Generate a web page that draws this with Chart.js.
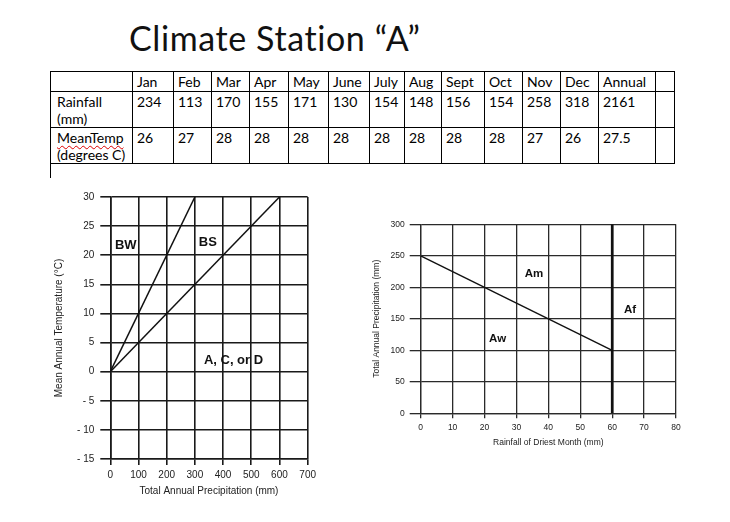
<!DOCTYPE html>
<html><head><meta charset="utf-8">
<script src="https://cdn.jsdelivr.net/npm/chart.js@4/dist/chart.umd.min.js"></script>
<style>
html,body{margin:0;padding:0;background:#fff;width:730px;height:522px;overflow:hidden;position:relative}
#title{position:absolute;left:129px;top:21px;font-family:Lato,'Open Sans',sans-serif;font-weight:400;font-size:34px;letter-spacing:0.6px;line-height:34px;color:#111;white-space:nowrap}
#tbl{position:absolute;left:50px;top:71px;border-collapse:collapse;table-layout:fixed;width:624px;font-family:Lato,sans-serif;font-size:14px;color:#000}
#tbl td{border:1px solid #000;padding:1px 0 0 4px;vertical-align:top;line-height:17px;overflow:hidden;white-space:nowrap}
#tbl td.first{padding-left:6px}
.sq{text-decoration:underline wavy #d00;text-decoration-thickness:1px;text-underline-offset:2px}
#cursor{position:absolute;left:50px;top:162px;width:1px;height:16px;background:#000}
canvas{position:absolute}
#c1{left:45px;top:185px}
#c2{left:365px;top:208px}
</style>
</head><body>
<div id="title">Climate Station “A”</div>
<table id="tbl"></table>
<div id="cursor"></div>
<canvas id="c1" width="275" height="315"></canvas>
<canvas id="c2" width="330" height="250"></canvas>
<script>
// ---- Table data ----
const months = ['Jan','Feb','Mar','Apr','May','June','July','Aug','Sept','Oct','Nov','Dec','Annual'];
const rainfall = [234,113,170,155,171,130,154,148,156,154,258,318,2161];
const meanTemp = [26,27,28,28,28,28,28,28,28,28,27,26,27.5];

// ---- Chart 1: aridity (B climates) ----
const precipTicks = [0,100,200,300,400,500,600,700];
const tempTicks = [-15,-10,-5,0,5,10,15,20,25,30];
const tempTickLabels = ['- 15','- 10','- 5','0','5','10','15','20','25','30'];
const bwBoundaryP = [0,300];
const bwBoundaryT = [0,30];
const bsBoundaryP = [0,600];
const bsBoundaryT = [0,30];
const regions1 = ['BW','BS','A, C, or D'];
const regions1P = [55,346,437];
const regions1T = [21.6,22.2,1.9];

// ---- Chart 2: tropical (A climates) ----
const dryTicks = [0,10,20,30,40,50,60,70,80];
const totalTicks = [0,50,100,150,200,250,300];
const amAwDry = [0,60];
const amAwTotal = [250,100];
const afDry = [60,60];
const afTotal = [0,300];
const regions2 = ['Am','Af','Aw'];
const regions2Dry = [35.5,65.6,24.1];
const regions2Total = [222,165,119];

// ---- build table ----
(function(){
  const widths=[82,41,38,38,39,40,41,35,37,43,38,38,38,57,19];
  const t=document.getElementById('tbl');
  let h='<colgroup>'+widths.map(w=>'<col style="width:'+w+'px">').join('')+'</colgroup>';
  h+='<tr style="height:20px"><td class="first"></td>'+months.map(m=>'<td>'+m+'</td>').join('')+'<td></td></tr>';
  h+='<tr style="height:36px"><td class="first">Rainfall<br>(mm)</td>'+rainfall.map(v=>'<td>'+v+'</td>').join('')+'<td></td></tr>';
  h+='<tr style="height:35px"><td class="first"><span class="sq">MeanTemp</span><br>(degrees C)</td>'+meanTemp.map(v=>'<td>'+v+'</td>').join('')+'<td></td></tr>';
  t.innerHTML=h;
})();

const FAM = "'Liberation Sans', Arial, sans-serif";
function pts(xs,ys){return xs.map((x,i)=>({x:x,y:ys[i]}));}
function labelPlugin(texts,xs,ys,font){
  return {id:'regionLabels',afterDatasetsDraw(chart){
    const {ctx,scales:{x,y}}=chart;
    ctx.save();ctx.font=font;ctx.fillStyle='#111';ctx.textAlign='center';ctx.textBaseline='middle';
    texts.forEach((t,i)=>ctx.fillText(t,x.getPixelForValue(xs[i]),y.getPixelForValue(ys[i])));
    ctx.restore();
  }};
}
function fixedTicks(arr){return s=>{s.ticks=arr.map(v=>({value:v}));};}

new Chart(document.getElementById('c1'),{
  type:'scatter',
  data:{datasets:[
    {data:pts(bwBoundaryP,bwBoundaryT),showLine:true,borderColor:'#111',borderWidth:1.5,pointRadius:0},
    {data:pts(bsBoundaryP,bsBoundaryT),showLine:true,borderColor:'#111',borderWidth:1.5,pointRadius:0}
  ]},
  options:{
    responsive:false,animation:false,events:[],
    layout:{padding:{top:10.7,right:11.3,left:0,bottom:0}},
    plugins:{legend:{display:false},tooltip:{enabled:false}},
    scales:{
      x:{type:'linear',min:0,max:700,afterBuildTicks:fixedTicks(precipTicks),
        ticks:{font:{family:FAM,size:10},color:'#222',padding:4,maxRotation:0,autoSkip:false},
        grid:{color:'#1a1a1a',lineWidth:1.6,tickLength:6},
        border:{color:'#1a1a1a',width:1.6},
        title:{display:true,text:'Total Annual Precipitation (mm)',font:{family:FAM,size:10},color:'#222',padding:{top:0,bottom:3}},
        afterFit:s=>{s.height=41;}},
      y:{type:'linear',min:-15,max:30,afterBuildTicks:fixedTicks(tempTicks),
        ticks:{font:{family:FAM,size:10},color:'#222',padding:6,autoSkip:false,
          callback:v=>{const i=tempTicks.indexOf(v);return i>=0?tempTickLabels[i]:'';}},
        grid:{color:'#1a1a1a',lineWidth:1.6,tickLength:10},
        border:{color:'#1a1a1a',width:1.6},
        title:{display:true,text:'Mean Annual Temperature (°C)',font:{family:FAM,size:10},color:'#222',padding:{top:8,bottom:0}},
        afterFit:s=>{s.width=65.3;}}
    }
  },
  plugins:[labelPlugin(regions1,regions1P,regions1T,"bold 13px "+FAM)]
});

new Chart(document.getElementById('c2'),{
  type:'scatter',
  data:{datasets:[
    {data:pts(amAwDry,amAwTotal),showLine:true,borderColor:'#111',borderWidth:1.4,pointRadius:0},
    {data:pts(afDry,afTotal),showLine:true,borderColor:'#111',borderWidth:2.6,pointRadius:0}
  ]},
  options:{
    responsive:false,animation:false,events:[],
    layout:{padding:{top:16.3,right:19,left:0,bottom:0}},
    plugins:{legend:{display:false},tooltip:{enabled:false}},
    scales:{
      x:{type:'linear',min:0,max:80,afterBuildTicks:fixedTicks(dryTicks),
        ticks:{font:{family:FAM,size:8.5},color:'#222',padding:4,maxRotation:0,autoSkip:false},
        grid:{color:'#2a2a2a',lineWidth:1.3,tickLength:5},
        border:{color:'#2a2a2a',width:1.3},
        title:{display:true,text:'Rainfall of Driest Month (mm)',font:{family:FAM,size:8.5},color:'#222',padding:{top:0,bottom:10.2}},
        afterFit:s=>{s.height=44.7;}},
      y:{type:'linear',min:0,max:300,afterBuildTicks:fixedTicks(totalTicks),
        ticks:{font:{family:FAM,size:8.5},color:'#222',padding:5,autoSkip:false},
        grid:{color:'#2a2a2a',lineWidth:1.3,tickLength:11},
        border:{color:'#2a2a2a',width:1.3},
        title:{display:true,text:'Total Annual Precipitation (mm)',font:{family:FAM,size:8.5},color:'#222',padding:{top:6.6,bottom:0}},
        afterFit:s=>{s.width=55.7;}}
    }
  },
  plugins:[labelPlugin(regions2,regions2Dry,regions2Total,"bold 11.5px "+FAM)]
});
</script>
</body></html>
